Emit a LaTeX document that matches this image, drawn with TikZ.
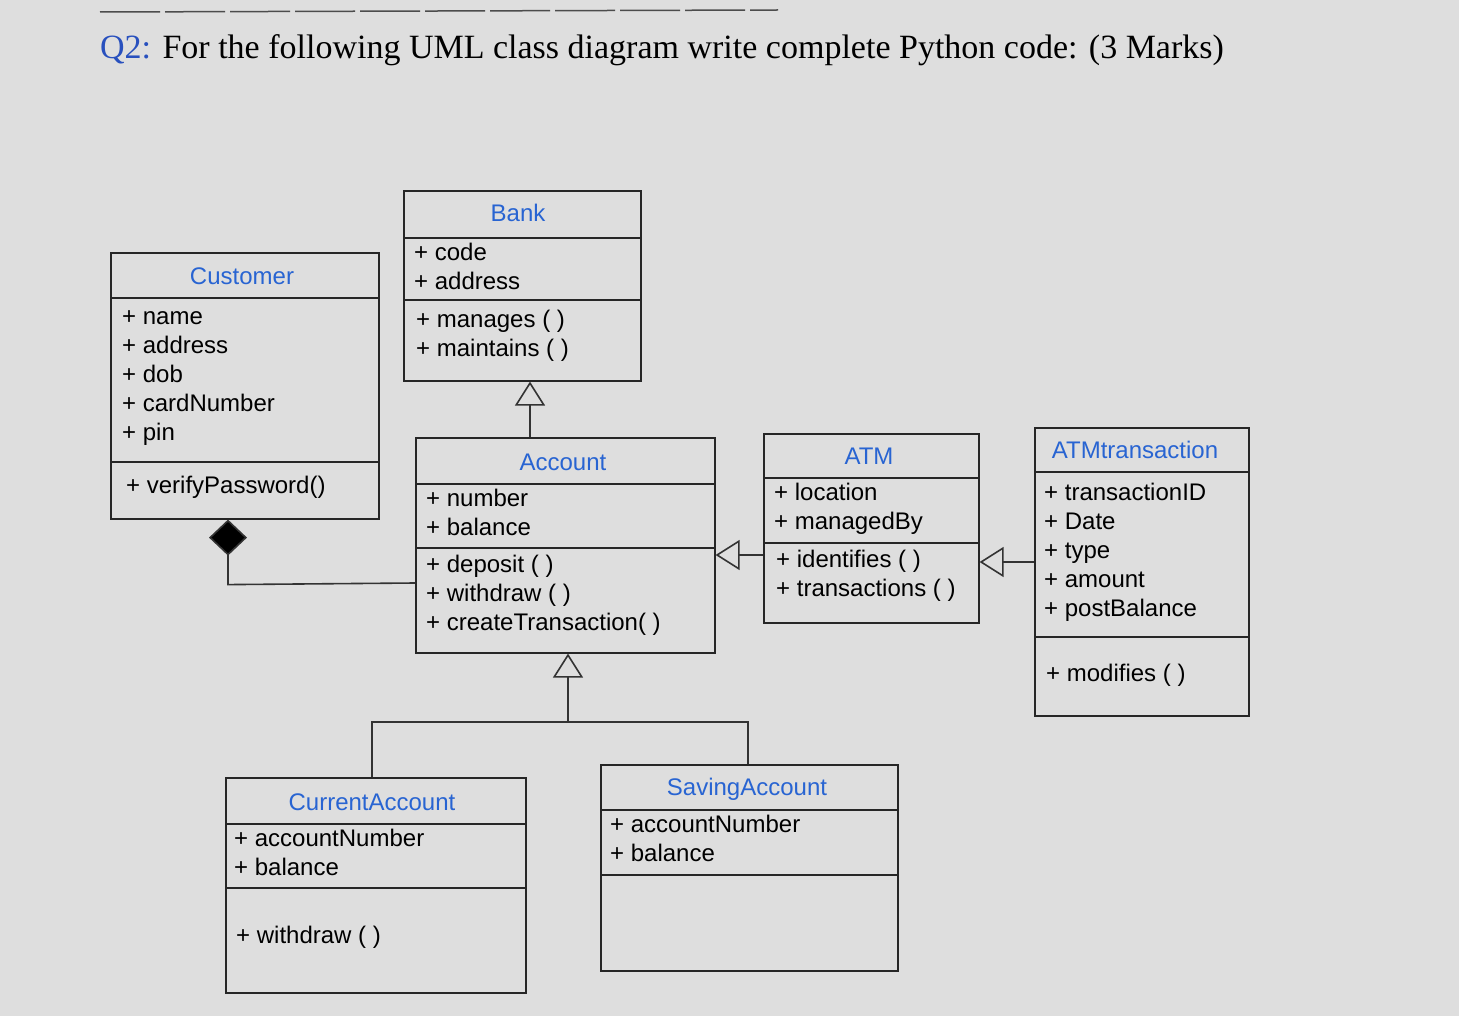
\documentclass[tikz,border=0pt]{standalone}
\usepackage{fontspec}
\setmainfont{Liberation Sans}
\newfontfamily\serifft{Liberation Serif}
\usetikzlibrary{arrows.meta,calc}
\definecolor{bg}{RGB}{222,222,222}
\definecolor{cls}{RGB}{40,100,210}
\definecolor{qb}{RGB}{40,80,190}
\tikzset{
 box/.style={draw=black!85,line width=1.6pt,anchor=north west,inner sep=0pt},
 cname/.style={text=cls,font=\fontsize{24}{28}\selectfont},
 attr/.style={anchor=north west,align=left,inner sep=0pt,font=\fontsize{24}{29}\selectfont},
 sep/.style={line width=1.6pt,draw=black!85},
 inh/.style={line width=1.6pt,draw=black!80,-{Triangle[open,fill=bg,length=24pt,width=30pt]}},
 comp/.style={line width=1.6pt,draw=black!80,{Diamond[length=36pt,width=38pt,fill=black]}-},
}
\begin{document}
\begin{tikzpicture}[x=1pt,y=-1pt]
\fill[bg] (0,0) rectangle (1459,1016);
\useasboundingbox (0,0) rectangle (1459,1016);
\draw[dash pattern=on 60pt off 5pt,line width=1.5pt,black!70] (100,12) -- (778,10);
\node[anchor=west,inner sep=0pt,font=\serifft\fontsize{34}{40}\selectfont] (title) at (100,50) {\textcolor{qb}{Q2:} For the following UML class diagram write complete Python code: (3 Marks)};

% Customer
\node[box,minimum width=268pt,minimum height=266pt] (cust) at (110,252) {};
\node[cname] (custn) at (242,276) {Customer};
\draw[sep] (110,298) -- (378,298); \draw[sep] (110,462) -- (378,462);
\node[attr] (custa) at (122,310) {+ name\\+ address\\+ dob\\+ cardNumber\\+ pin};
\node[attr] (custm) at (126,476) {+ verifyPassword()};

% Bank
\node[box,minimum width=237pt,minimum height=190pt] (bank) at (403,190) {};
\node[cname] (bankn) at (518,213) {Bank};
\draw[sep] (403,238) -- (640,238); \draw[sep] (403,300) -- (640,300);
\node[attr] (banka) at (414,243) {+ code\\+ address};
\node[attr] (bankm) at (416,310) {+ manages ( )\\+ maintains ( )};

% Account
\node[box,minimum width=299pt,minimum height=215pt] (acc) at (415,437) {};
\node[cname] (accn) at (563,462) {Account};
\draw[sep] (415,484) -- (714,484); \draw[sep] (415,548) -- (714,548);
\node[attr] (acca) at (426,489) {+ number\\+ balance};
\node[attr] (accm) at (426,555) {+ deposit ( )\\+ withdraw ( )\\+ createTransaction( )};

% ATM
\node[box,minimum width=215pt,minimum height=189pt] (atm) at (763,433) {};
\node[cname] (atmn) at (869,456) {ATM};
\draw[sep] (763,478) -- (978,478); \draw[sep] (763,543) -- (978,543);
\node[attr] (atma) at (774,483) {+ location\\+ managedBy};
\node[attr] (atmm) at (776,550) {+ identifies ( )\\+ transactions ( )};

% ATMtransaction
\node[box,minimum width=214pt,minimum height=288pt] (atmt) at (1034,427) {};
\node[cname] (atmtn) at (1135,450) {ATMtransaction};
\draw[sep] (1034,472) -- (1248,472); \draw[sep] (1034,637) -- (1248,637);
\node[attr] (atmta) at (1044,483) {+ transactionID\\+ Date\\+ type\\+ amount\\+ postBalance};
\node[attr] (atmtm) at (1046,664) {+ modifies ( )};

% CurrentAccount
\node[box,minimum width=300pt,minimum height=215pt] (cur) at (225,777) {};
\node[cname] (curn) at (372,802) {CurrentAccount};
\draw[sep] (225,824) -- (525,824); \draw[sep] (225,888) -- (525,888);
\node[attr] (cura) at (234,829) {+ accountNumber\\+ balance};
\node[attr] (curm) at (236,926) {+ withdraw ( )};

% SavingAccount
\node[box,minimum width=297pt,minimum height=206pt] (sav) at (600,764) {};
\node[cname] (savn) at (747,789) {SavingAccount};
\draw[sep] (600,810) -- (897,810); \draw[sep] (600,875) -- (897,875);
\node[attr] (sava) at (610,815) {+ accountNumber\\+ balance};

% connectors
\draw[inh] ($(acc.north west)+(115,0)$) -- ($(bank.south west)+(127,0)$);
\draw[comp] ($(cust.south west)+(118,0)$) -- ++(0,65) -- (acc.west |- 0,583);
\draw[inh] (atm.west |- 0,555) -- (acc.east |- 0,555);
\draw[inh] (atmt.west |- 0,562) -- (atm.east |- 0,562);
\coordinate (j) at (568,722);
\draw[inh] (j) -- ($(acc.south west)+(153,0)$);
\draw[line width=1.6pt,black!80] (cur.north -| 372,0) -- (372,722) -- (748,722) -- (sav.north -| 748,0);
\end{tikzpicture}
\end{document}
